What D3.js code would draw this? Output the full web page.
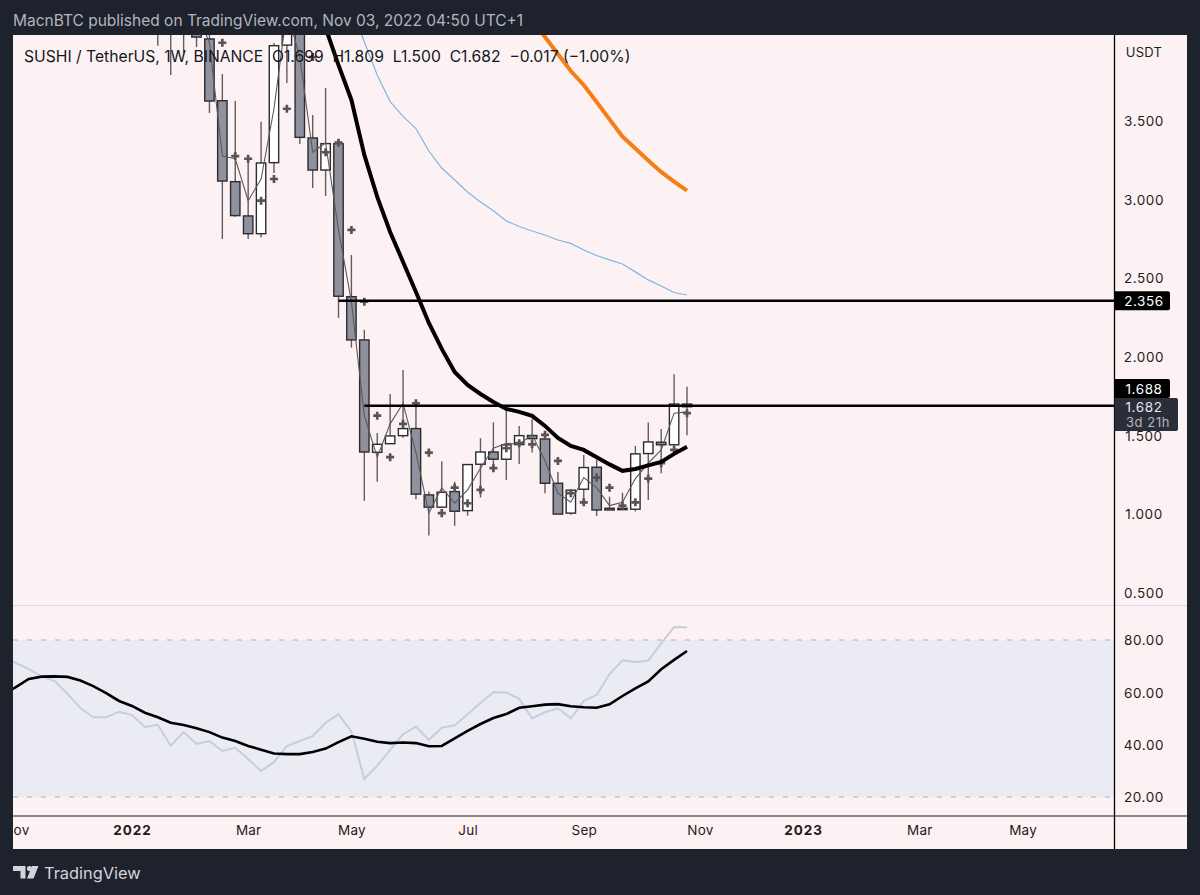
<!DOCTYPE html>
<html>
<head>
<meta charset="utf-8">
<script src="https://cdn.jsdelivr.net/npm/d3@7"></script>
<style>
  html, body { margin: 0; padding: 0; background: #1e222d; }
  svg { display: block; }
  text { font-family: Inter, "Noto Sans", sans-serif; }
  .tick line, .domain { display: none; }
</style>
</head>
<body>
<div id="chart"></div>
<script>
// weekly candles, first one is the week of 17 Jan 2022
var opens = [4.30,4.30,4.25,4.14,4.022,3.629,3.114,2.896,2.783,3.235,3.983,4.15,3.392,3.188,3.356,2.382,2.107,1.392,1.447,1.498,1.543,1.121,1.043,1.142,1.021,1.316,1.394,1.348,1.441,1.499,1.477,1.195,1.005,1.157,1.297,1.036,1.027,1.030,1.384,1.456,1.440,1.699];
var highs = [4.60,4.50,4.40,4.30,4.20,3.799,3.627,3.265,3.496,3.996,4.25,4.30,3.538,3.710,3.379,2.648,2.171,1.515,1.763,1.916,1.714,1.142,1.333,1.205,1.318,1.482,1.583,1.655,1.560,1.602,1.524,1.267,1.157,1.375,1.344,1.110,1.135,1.433,1.581,1.541,1.889,1.809];
var lows = [3.979,3.793,3.933,3.971,3.551,2.749,2.891,2.749,2.758,3.169,3.742,3.354,3.074,3.023,2.247,2.058,1.083,1.205,1.445,1.484,1.094,0.862,1.040,0.924,0.989,1.104,1.301,1.216,1.318,1.390,1.132,0.999,0.994,1.078,0.987,1.025,1.027,1.015,1.089,1.259,1.396,1.500];
var closes = [4.20,4.15,4.12,4.034,3.627,3.118,2.898,2.783,3.233,3.979,4.15,3.396,3.188,3.356,2.385,2.107,1.394,1.443,1.496,1.543,1.126,1.043,1.138,1.017,1.314,1.394,1.348,1.439,1.498,1.479,1.195,0.999,1.151,1.295,1.025,1.025,1.036,1.382,1.458,1.440,1.699,1.682];

// thin line, starts 7 Feb 2022. the crosses are the same values one bar later
var fastLine = [4.20,3.998,3.277,3.260,2.993,3.131,3.578,4.20,3.907,3.301,3.362,2.807,2.350,1.625,1.361,1.573,1.704,1.390,1.005,1.167,1.068,1.153,1.291,1.418,1.450,1.443,1.503,1.337,1.132,1.074,1.231,1.167,1.053,1.074,1.225,1.323,1.407,1.641,1.649];

// thick black average, starts 11 Apr 2022
var blackMa = [4.33,4.092,3.856,3.634,3.284,3.017,2.794,2.603,2.412,2.215,2.050,1.903,1.821,1.763,1.712,1.668,1.649,1.624,1.560,1.484,1.433,1.407,1.360,1.315,1.274,1.286,1.309,1.331,1.382,1.428];
// blue average, starts 2 May 2022
var blueMa = [4.232,4.003,3.793,3.623,3.529,3.452,3.309,3.201,3.125,3.048,2.985,2.929,2.864,2.829,2.800,2.775,2.743,2.721,2.679,2.644,2.616,2.590,2.540,2.489,2.450,2.409,2.393];
// orange average, starts 8 Aug 2022
var orangeMa = [4.142,4.034,3.926,3.818,3.729,3.621,3.510,3.401,3.325,3.249,3.176,3.115,3.057];

// rsi and its average, start 25 Oct 2021
var rsiValues = [74.3,71.2,68.9,66.1,64.3,59.4,54.0,50.5,50.5,52.6,51.3,46.8,47.6,39.6,44.8,40.3,41.4,37.6,38.8,34.5,29.9,33.4,39.5,41.4,43.3,48.4,51.7,45.0,26.9,32.0,38.0,44.0,46.9,41.8,46.5,47.4,51.6,55.9,60.0,59.9,57.5,50.1,52.4,53.9,50.1,56.7,59.0,67.0,72.2,71.6,72.1,78.7,85.0,84.9];
var rsiAverage = [59.0,62.0,65.1,66.0,66.1,65.9,64.5,62.4,59.7,56.7,54.8,52.2,50.5,48.4,47.5,46.3,44.8,42.7,41.4,39.5,38.1,36.6,36.4,36.4,37.2,38.5,41.0,43.2,42.3,41.1,40.6,40.8,40.6,39.4,39.5,42.4,45.3,47.9,50.2,51.7,54.1,54.7,55.3,55.5,54.7,54.3,54.1,55.4,58.6,61.5,64.2,68.8,72.4,75.8];

// drawn levels
var levelPrices = [2.356, 1.688];
var levelStarts = ["2022-04-25", "2022-05-09"];

// axis ticks
var priceTicks = [3.5, 3.0, 2.5, 2.0, 1.5, 1.0, 0.5];
var rsiTicks = [80, 60, 40, 20];
var timeTicks = ["2021-11-01","2022-01-03","2022-03-07","2022-05-02","2022-07-04","2022-09-05","2022-11-07","2023-01-02","2023-03-06","2023-05-01"];
var timeLabels = ["Nov","2022","Mar","May","Jul","Sep","Nov","2023","Mar","May"];

var chartW = 1200, chartH = 895;
var plotLeft = 13, plotRight = 1114.5, outerRight = 1187, plotTop = 35, paneBottom = 605.5, timeTop = 816, plotBottom = 849;
var lastTagTop = 398;

var svg = d3.select("#chart").append("svg")
    .attr("width", chartW)
    .attr("height", chartH);

var x = d3.scaleUtc()
    .domain([new Date("2022-01-03"), new Date("2022-10-31")])
    .range([132, 687]);
var y = d3.scaleLinear().domain([0.5, 3.5]).range([592.5, 121]);
var yRsi = d3.scaleLinear().domain([20, 80]).range([797, 640]);

function weeksFrom(start, n) {
    var first = new Date(start);
    return d3.range(n).map(function(i) { return d3.utcDay.offset(first, i * 7); });
}

function pairs(start, values) {
    var dates = weeksFrom(start, values.length);
    return values.map(function(v, i) { return { date: dates[i], value: v }; });
}

// background
svg.append("rect").attr("x", plotLeft).attr("y", plotTop)
    .attr("width", outerRight - plotLeft).attr("height", plotBottom - plotTop)
    .attr("fill", "#fdf2f3");

var defs = svg.append("defs");
defs.append("clipPath").attr("id", "price-clip").append("rect")
    .attr("x", plotLeft).attr("y", plotTop).attr("width", plotRight - plotLeft).attr("height", paneBottom - plotTop);
defs.append("clipPath").attr("id", "rsi-clip").append("rect")
    .attr("x", plotLeft).attr("y", paneBottom).attr("width", plotRight - plotLeft).attr("height", timeTop - paneBottom);
defs.append("clipPath").attr("id", "time-clip").append("rect")
    .attr("x", plotLeft).attr("y", timeTop).attr("width", plotRight - plotLeft).attr("height", plotBottom - timeTop);

// --- price pane ---
var pricePane = svg.append("g").attr("clip-path", "url(#price-clip)");

var priceLine = d3.line()
    .x(function(d) { return x(d.date); })
    .y(function(d) { return y(d.value); });

var candleDates = weeksFrom("2022-01-17", opens.length);
var candles = candleDates.map(function(date, i) {
    return { date: date, o: opens[i], h: highs[i], l: lows[i], c: closes[i] };
});

pricePane.selectAll("line.wick")
    .data(candles)
    .enter().append("line")
    .attr("class", "wick")
    .attr("x1", function(d) { return x(d.date); })
    .attr("x2", function(d) { return x(d.date); })
    .attr("y1", function(d) { return y(d.h); })
    .attr("y2", function(d) { return y(d.l); })
    .attr("stroke", "#5f5c62")
    .attr("stroke-width", 1.4);

pricePane.selectAll("rect.body")
    .data(candles)
    .enter().append("rect")
    .attr("class", "body")
    .attr("x", function(d) { return x(d.date) - 4.7; })
    .attr("width", 9.4)
    .attr("y", function(d) { return y(Math.max(d.o, d.c)); })
    .attr("height", function(d) { return Math.abs(y(d.o) - y(d.c)); })
    .attr("fill", function(d) { return d.c >= d.o ? "#ffffff" : "#8f929e"; })
    .attr("stroke", "#2b2b30")
    .attr("stroke-width", 1.4);

// thin line and its crosses
pricePane.append("path")
    .datum(pairs("2022-02-07", fastLine))
    .attr("d", priceLine)
    .attr("fill", "none")
    .attr("stroke", "#5c585c")
    .attr("stroke-width", 1.1);

pricePane.selectAll("path.cross")
    .data(pairs("2022-02-14", fastLine.slice(0, -1)))
    .enter().append("path")
    .attr("class", "cross")
    .attr("d", d3.symbol().type(d3.symbolCross).size(36))
    .attr("transform", function(d) { return "translate(" + x(d.date) + "," + y(d.value) + ")"; })
    .attr("fill", "#5b5256");

pricePane.append("path")
    .datum(pairs("2022-05-02", blueMa))
    .attr("d", priceLine)
    .attr("fill", "none")
    .attr("stroke", "#7fb5e3")
    .attr("stroke-width", 1.2);

pricePane.append("path")
    .datum(pairs("2022-08-08", orangeMa))
    .attr("d", priceLine)
    .attr("fill", "none")
    .attr("stroke", "#f57f17")
    .attr("stroke-width", 4);

pricePane.append("path")
    .datum(pairs("2022-04-11", blackMa))
    .attr("d", priceLine)
    .attr("fill", "none")
    .attr("stroke", "#000000")
    .attr("stroke-width", 4);

// horizontal levels run on to the price axis
pricePane.selectAll("line.level")
    .data(levelPrices)
    .enter().append("line")
    .attr("class", "level")
    .attr("x1", function(d, i) { return x(new Date(levelStarts[i])); })
    .attr("x2", plotRight)
    .attr("y1", function(d) { return y(d); })
    .attr("y2", function(d) { return y(d); })
    .attr("stroke", "#000000")
    .attr("stroke-width", 2.4);

// --- rsi pane ---
var rsiPane = svg.append("g").attr("clip-path", "url(#rsi-clip)");

rsiPane.append("rect")
    .attr("x", plotLeft).attr("width", plotRight - plotLeft)
    .attr("y", yRsi(80)).attr("height", yRsi(20) - yRsi(80))
    .attr("fill", "#ebebf3");

rsiPane.selectAll("line.band")
    .data([80, 20])
    .enter().append("line")
    .attr("class", "band")
    .attr("x1", plotLeft).attr("x2", plotRight)
    .attr("y1", function(d) { return yRsi(d); })
    .attr("y2", function(d) { return yRsi(d); })
    .attr("stroke", "#b3adb2")
    .attr("stroke-width", 1)
    .attr("stroke-dasharray", "5,9");

var rsiLine = d3.line()
    .x(function(d) { return x(d.date); })
    .y(function(d) { return yRsi(d.value); });

rsiPane.append("path")
    .datum(pairs("2021-10-25", rsiValues))
    .attr("d", rsiLine)
    .attr("fill", "none")
    .attr("stroke", "#c6ced9")
    .attr("stroke-width", 2);

rsiPane.append("path")
    .datum(pairs("2021-10-25", rsiAverage))
    .attr("d", rsiLine)
    .attr("fill", "none")
    .attr("stroke", "#000000")
    .attr("stroke-width", 2.6);

// --- frame lines ---
svg.append("line").attr("x1", plotLeft).attr("x2", outerRight)
    .attr("y1", paneBottom).attr("y2", paneBottom)
    .attr("stroke", "#d9d9ec").attr("stroke-width", 1);
svg.append("line").attr("x1", plotLeft).attr("x2", outerRight)
    .attr("y1", timeTop).attr("y2", timeTop)
    .attr("stroke", "#1a1a1e").attr("stroke-width", 1.2);
svg.append("line").attr("x1", plotRight).attr("x2", plotRight)
    .attr("y1", plotTop).attr("y2", plotBottom)
    .attr("stroke", "#000000").attr("stroke-width", 1.3);

// --- axes ---
function styleAxis(g) {
    g.selectAll("text")
        .attr("fill", "#1d1d22")
        .style("font-size", "13.5px")
        .style("letter-spacing", "0.6px");
}

svg.append("g")
    .attr("transform", "translate(" + 1144 + ",0.5)")
    .call(d3.axisRight(y).tickValues(priceTicks).tickFormat(d3.format(".3f")).tickSize(0).tickPadding(0))
    .call(styleAxis)
    .selectAll("text").attr("text-anchor", "middle");

svg.append("g")
    .attr("transform", "translate(" + 1144 + ",0.5)")
    .call(d3.axisRight(yRsi).tickValues(rsiTicks).tickFormat(d3.format(".2f")).tickSize(0).tickPadding(0))
    .call(styleAxis)
    .selectAll("text").attr("text-anchor", "middle");

var timeAxis = svg.append("g")
    .attr("clip-path", "url(#time-clip)")
    .append("g")
    .attr("transform", "translate(0," + 825.5 + ")")
    .call(d3.axisBottom(x)
        .tickValues(timeTicks.map(function(d) { return new Date(d); }))
        .tickFormat(function(d, i) { return timeLabels[i]; })
        .tickSize(0).tickPadding(0))
    .call(styleAxis);
timeAxis.selectAll("text")
    .style("font-weight", function(d, i) { return /^\d+$/.test(timeLabels[i]) ? 700 : 400; })
    .style("letter-spacing", function(d, i) { return /^\d+$/.test(timeLabels[i]) ? "1px" : "0.2px"; });

svg.append("text")
    .attr("x", 1144).attr("y", 56.5).attr("text-anchor", "middle")
    .attr("fill", "#1d1d22")
    .style("font-size", "13px").style("letter-spacing", "0.3px")
    .text("USDT");

// --- price tags ---
// a tag that would sit under the last price tag gets pushed up on top of it
function tag(value) {
    var cy = Math.min(y(value), lastTagTop - 9.5);
    svg.append("path")
        .attr("d", "M" + plotRight + "," + (cy - 9.5) + "H1168a2,2 0 0 1 2,2V" + (cy + 7.5) + "a2,2 0 0 1 -2,2H" + plotRight + "Z")
        .attr("fill", "#000000");
    svg.append("text")
        .attr("x", 1144).attr("y", cy + 5).attr("text-anchor", "middle")
        .attr("fill", "#ffffff")
        .style("font-size", "13.5px").style("letter-spacing", "0.6px")
        .text(d3.format(".3f")(value));
}
levelPrices.forEach(function(p) { tag(p); });

svg.append("path")
    .attr("d", "M" + plotRight + "," + lastTagTop + "H1176a2,2 0 0 1 2,2V429a2,2 0 0 1 -2,2H" + plotRight + "Z")
    .attr("fill", "#2a2e39");
svg.append("text")
    .attr("x", 1144).attr("y", 412).attr("text-anchor", "middle")
    .attr("fill", "#e6e7ec")
    .style("font-size", "13.5px").style("letter-spacing", "0.6px")
    .text("1.682");
svg.append("text")
    .attr("x", 1148).attr("y", 426.5).attr("text-anchor", "middle")
    .attr("fill", "#b2b5be")
    .style("font-size", "13px").style("letter-spacing", "0.6px")
    .text("3d 21h");

// --- legend and header ---
svg.append("text")
    .attr("x", 24).attr("y", 61.5)
    .attr("fill", "#131722")
    .attr("xml:space", "preserve")
    .style("font-size", "15.68px")
    .text("SUSHI / TetherUS, 1W, BINANCE  O1.699  H1.809  L1.500  C1.682  \u22120.017 (\u22121.00%)");

svg.append("text")
    .attr("x", 13).attr("y", 25.5)
    .attr("fill", "#b2b5be")
    .style("font-size", "15.5px")
    .text("MacnBTC published on TradingView.com, Nov 03, 2022 04:50 UTC+1");

// logo
svg.append("path")
    .attr("d", "M13,866H25.5V878.5H20.5V871H13Z M32,866H38.5L33.5,878.5H27Z")
    .attr("fill", "#d1d4dc");
svg.append("circle").attr("cx", 29.5).attr("cy", 868.5).attr("r", 2.6).attr("fill", "#d1d4dc");

svg.append("text")
    .attr("x", 44).attr("y", 879)
    .attr("fill", "#d1d4dc")
    .style("font-size", "16.4px")
    .text("TradingView");
</script>
</body>
</html>
